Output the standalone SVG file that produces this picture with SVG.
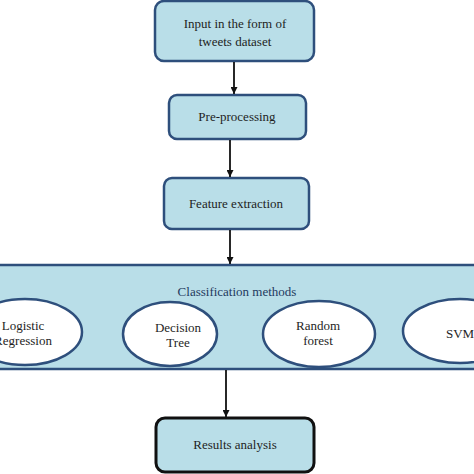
<svg xmlns="http://www.w3.org/2000/svg" width="474" height="474" viewBox="0 0 474 474">
<defs>
<marker id="ah" viewBox="0 0 10 10" refX="10" refY="5" markerWidth="8" markerHeight="7" orient="auto" markerUnits="userSpaceOnUse">
<path d="M0,0 L10,5 L0,10 z" fill="#111"/>
</marker>
<style>
.box{fill:#b9dee8;stroke:#2e4f7c;stroke-width:2.5}
.ell{fill:#ffffff;stroke:#2e4f7c;stroke-width:2.5}
.t{font-family:"Liberation Serif","Times New Roman",serif;font-size:13px;fill:#1e1e1e;text-anchor:middle}
.c{stroke:#111;stroke-width:1.8;fill:none}
</style>
</defs>
<rect width="474" height="474" fill="#ffffff"/>
<g id="input">
<rect class="box" x="155" y="1" width="159" height="60" rx="9"/>
<text class="t" x="235" y="28">Input in the form of</text>
<text class="t" x="235" y="46">tweets dataset</text>
</g>
<g id="preprocessing">
<rect class="box" x="169" y="95" width="137" height="44" rx="8"/>
<text class="t" x="237" y="121">Pre-processing</text>
</g>
<g id="feature">
<rect class="box" x="164" y="178" width="145" height="51" rx="8"/>
<text class="t" x="236" y="208">Feature extraction</text>
</g>
<g id="classification">
<rect class="box" x="-5" y="265" width="484" height="104"/>
<text class="t" x="237" y="296" style="fill:#1f3a5f">Classification methods</text>
</g>
<g id="logistic">
<ellipse class="ell" cx="25" cy="332" rx="57" ry="33"/>
<text class="t" x="23" y="330">Logistic</text>
<text class="t" x="23" y="345">Regression</text>
</g>
<g id="decision">
<ellipse class="ell" cx="170" cy="334" rx="47" ry="32"/>
<text class="t" x="178" y="332">Decision</text>
<text class="t" x="178" y="347">Tree</text>
</g>
<g id="random">
<ellipse class="ell" cx="319" cy="334" rx="56" ry="33"/>
<text class="t" x="318" y="330">Random</text>
<text class="t" x="318" y="345">forest</text>
</g>
<g id="svm">
<ellipse class="ell" cx="460" cy="331" rx="57" ry="32"/>
<text class="t" x="446" y="338" style="text-anchor:start">SVM</text>
</g>
<g id="results">
<rect class="box" x="156" y="418" width="158" height="54" rx="9" style="stroke:#111;stroke-width:3"/>
<text class="t" x="235" y="449">Results analysis</text>
</g>
<g id="connectors">
<line class="c" x1="234" y1="62" x2="234" y2="94" marker-end="url(#ah)"/>
<line class="c" x1="230" y1="140" x2="230" y2="177" marker-end="url(#ah)"/>
<line class="c" x1="230" y1="230" x2="230" y2="264" marker-end="url(#ah)"/>
<line class="c" x1="226" y1="370" x2="226" y2="417" marker-end="url(#ah)"/>
</g>
</svg>
